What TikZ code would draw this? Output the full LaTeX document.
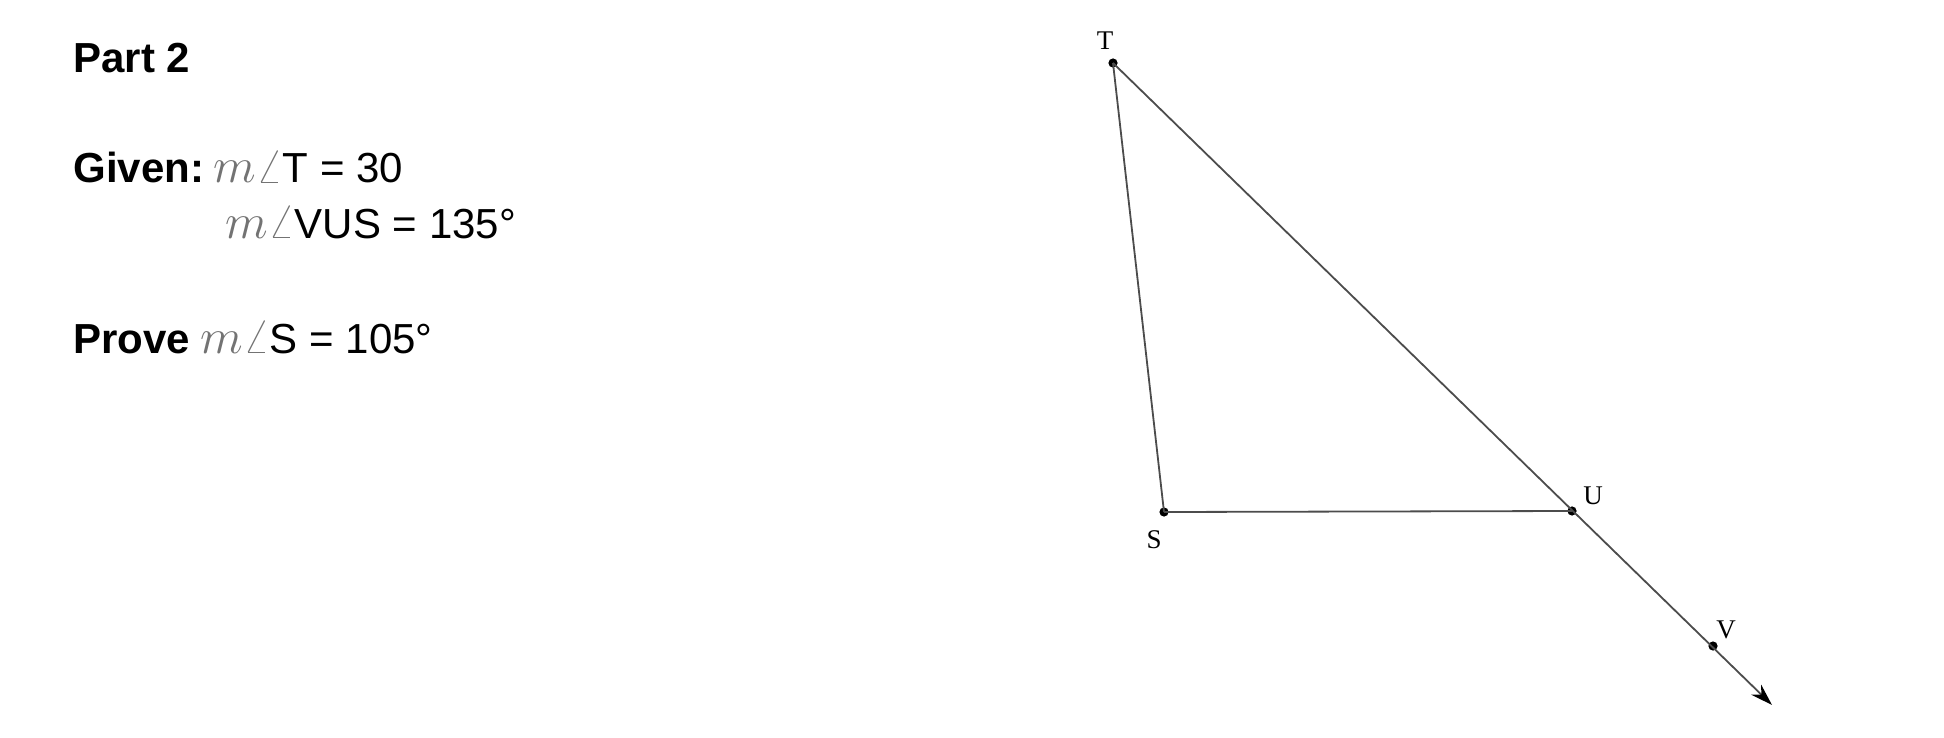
\documentclass[tikz,border=0pt]{standalone}
\usepackage{fontspec}
\setmainfont{Liberation Sans}
\newfontfamily\lblfont{Liberation Serif}
\usetikzlibrary{arrows.meta}
\newcommand{\mang}{\textcolor{black!55}{\fontsize{27}{30}\selectfont$m\angle$}}
\begin{document}
\begin{tikzpicture}[x=0.5pt,y=-0.5pt,
  txt/.style={anchor=base west,inner sep=0pt,font=\fontsize{21}{24}\selectfont},
  pt/.style={circle,fill=black,inner sep=0pt,minimum size=4.6pt},
  lbl/.style={inner sep=0pt,font=\lblfont\fontsize{13.5}{15}\selectfont},
  seg/.style={draw=black!70,line width=0.9pt}]
\useasboundingbox (0,0) rectangle (1944,738);
% text
\node[txt] (part) at (73,73) {\bfseries Part 2};
\node[txt] (given) at (73,183) {\bfseries Given:};
\node[txt] (g1) at (213,183) {\mang T = 30};
\node[txt] (g2) at (225,238) {\mang VUS = 135°};
\node[txt] (prove) at (73,353) {\bfseries Prove};
\node[txt] (p1) at (200,353) {\mang S = 105°};
% points
\node[pt] (T) at (1113,63) {};
\node[pt] (S) at (1164,512) {};
\node[pt] (U) at (1572,511) {};
\node[pt] (V) at (1713,646) {};
\coordinate (tip) at (1772,705);
% segments
\draw[seg] (T.center) -- (S.center);
\draw[seg] (S.center) -- (U.center);
\draw[seg,-{Stealth[length=11pt,width=7pt,color=black]}] (T.center) -- (tip);
% labels
\node[lbl] (lT) at (1105,41) {T};
\node[lbl] (lS) at (1154,540) {S};
\node[lbl] (lU) at (1593,496) {U};
\node[lbl] (lV) at (1726,630) {V};
\end{tikzpicture}
\end{document}
